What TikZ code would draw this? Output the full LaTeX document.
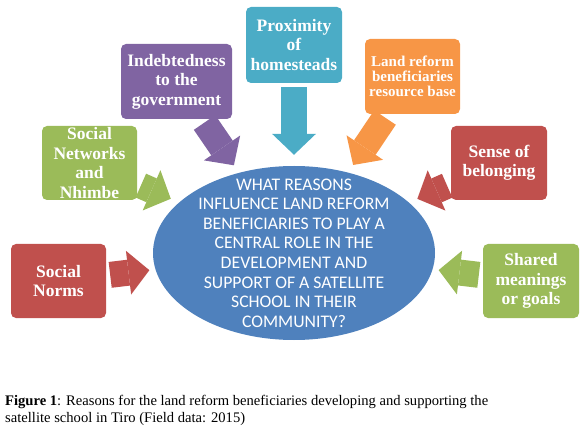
\documentclass[tikz,border=0pt]{standalone}
\usepackage{fontspec}
\setmainfont{Liberation Serif}
\newfontfamily\qfont{Carlito}
\usetikzlibrary{shapes,arrows.meta,positioning}

\definecolor{sablue}{HTML}{4F81BD}
\definecolor{sagreen}{HTML}{9BBB59}
\definecolor{sapurple}{HTML}{8064A2}
\definecolor{sateal}{HTML}{4BACC6}
\definecolor{saorange}{HTML}{F79646}
\definecolor{sared}{HTML}{C0504D}

\begin{document}
\begin{tikzpicture}[x=1pt, y=-1pt,
	reason/.style={rectangle, rounded corners=5pt, fill=#1, text=white, align=center, inner sep=0pt,
		minimum width=95pt, minimum height=74pt, font=\fontsize{17.5}{19.5}\selectfont\bfseries},
	fat/.style={draw=#1, line width=26pt, shorten <=4pt, shorten >=9pt,
		-{Triangle[width=44pt, length=21pt, line width=0pt]}}]
				\useasboundingbox (0,0) rectangle (580,435);
				
				\node[ellipse, fill=sablue, minimum width=282pt, minimum height=174pt, inner sep=0pt] (q) at (294,253) {};
				\node[text=white, align=center, font=\qfont\fontsize{17.7}{19.6}\selectfont] (qtext) at (q.center)
					{WHAT REASONS\\INFLUENCE LAND REFORM\\BENEFICIARIES TO PLAY A\\CENTRAL ROLE IN THE\\DEVELOPMENT AND\\SUPPORT OF A SATELLITE\\SCHOOL IN THEIR\\COMMUNITY?};
				
				\node[reason=sagreen] (snet) at (89.5,163) {Social\\Networks\\and\\Nhimbe};
				\node[reason=sapurple, minimum width=111pt, minimum height=75pt] (debt) at (176.5,81.5) {Indebtedness\\to the\\government};
				\node[reason=sateal, minimum width=96pt, minimum height=76pt] (prox) at (294,45) {Proximity\\of\\homesteads};
				\node[reason=saorange, minimum height=75pt, font=\fontsize{15}{15}\selectfont\bfseries] (land) at (412.5,76.5) {Land reform\\beneficiaries\\resource base};
				\node[reason=sared, minimum width=96pt] (sense) at (499,163) {Sense of\\belonging};
				\node[reason=sared] (norms) at (58.5,281) {Social\\Norms};
				\node[reason=sagreen, minimum width=96pt] (shared) at (531,281) {Shared\\meanings\\or goals};
				
				\draw[fat=sagreen] (snet) -- (q);
				\draw[fat=sapurple] (debt) -- (q);
				\draw[fat=sateal, shorten >=11pt] (prox) -- (q);
				\draw[fat=saorange] (land) -- (q);
				\draw[fat=sared] (sense) -- (q);
				\draw[fat=sared, shorten >=6pt] (norms) -- (q);
				\draw[fat=sagreen, shorten >=6pt] (shared) -- (q);
				
				% caption under the figure
				\node[anchor=north west, inner sep=0pt, align=left, font=\fontsize{14.6}{17}\selectfont] (cap) at (5,395)
					{\textbf{Figure 1}: Reasons for the land reform beneficiaries developing and supporting the\\satellite school in Tiro (Field data: 2015)};
			\end{tikzpicture}
\end{document}
